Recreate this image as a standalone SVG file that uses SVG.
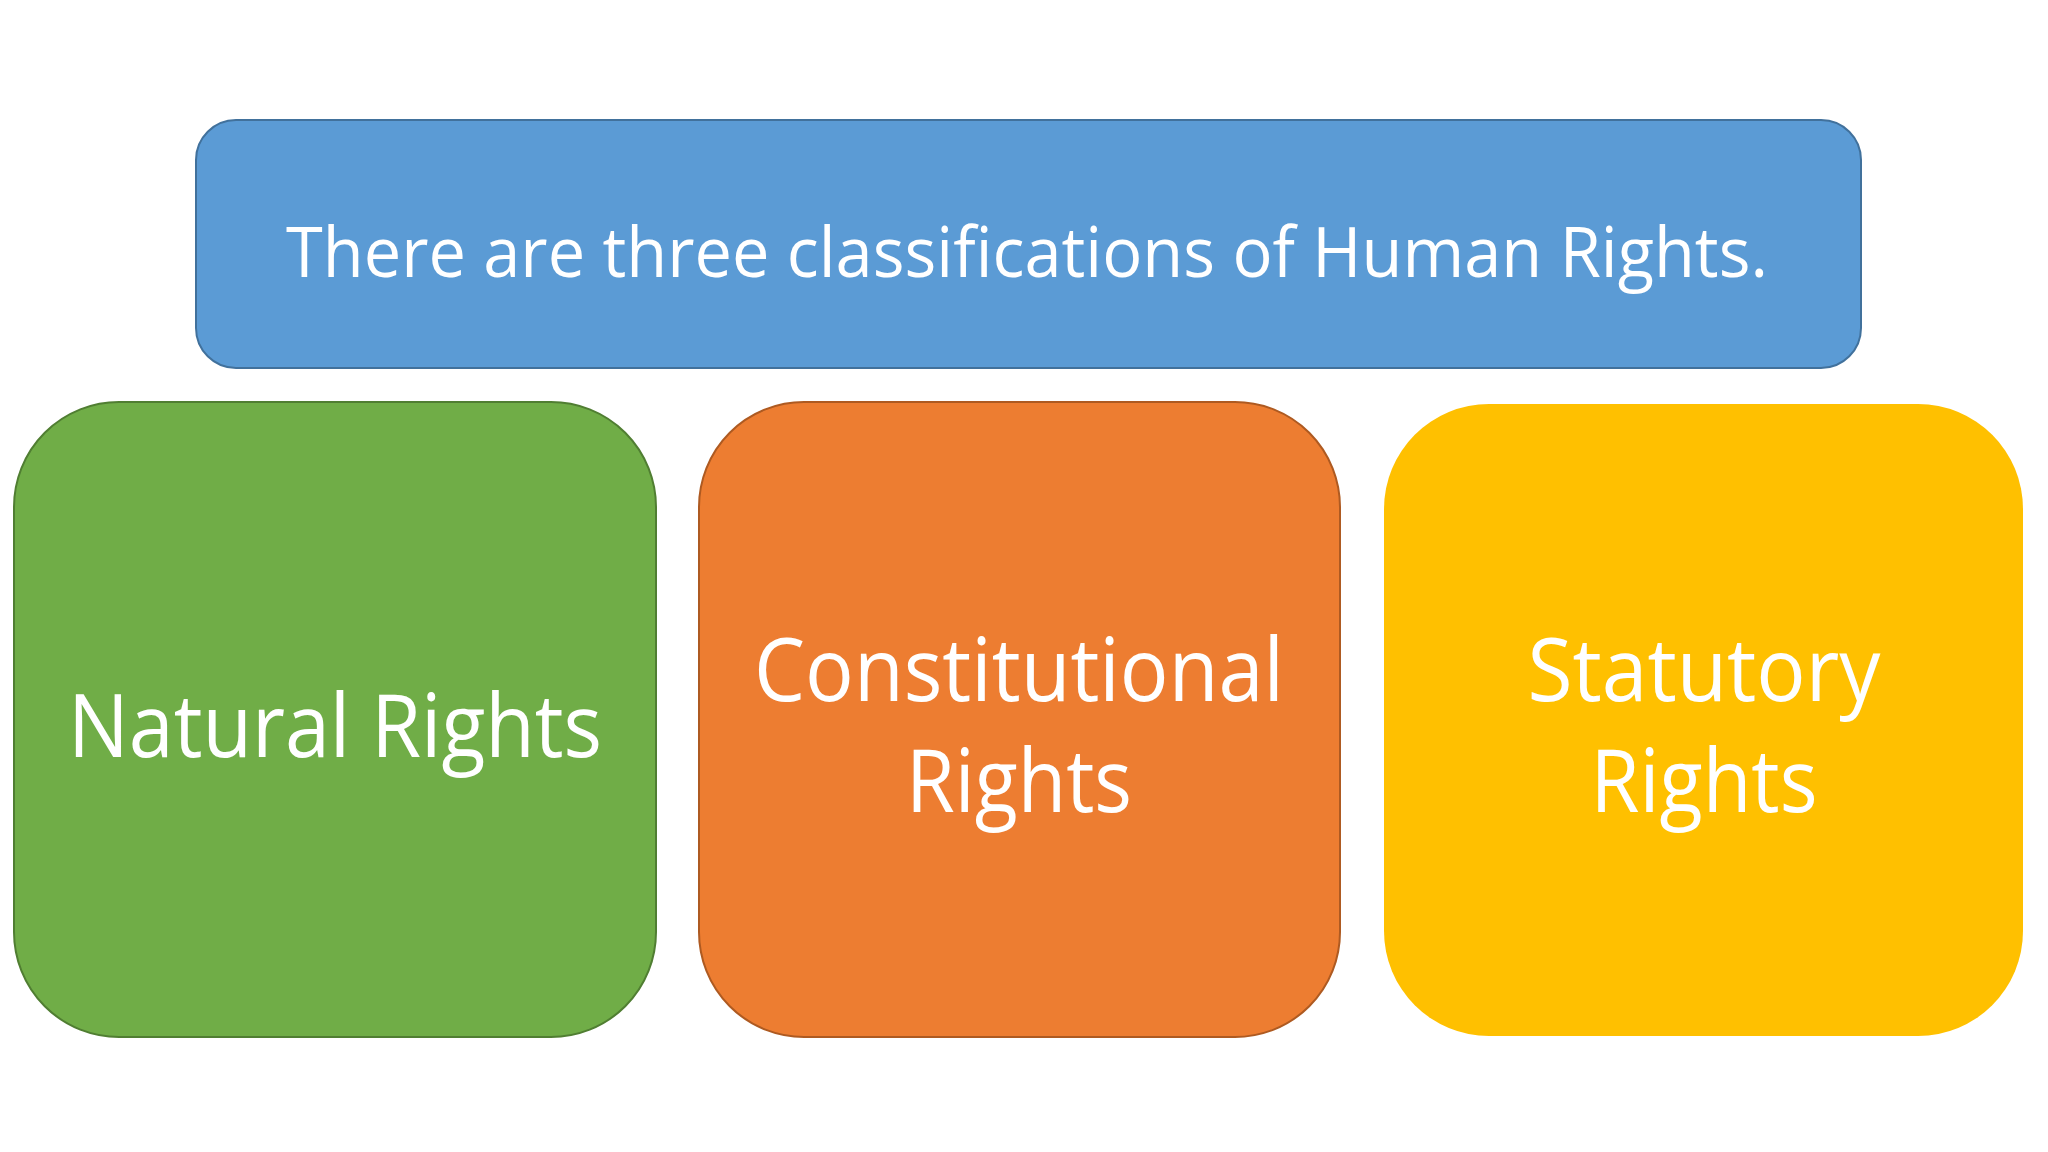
<svg xmlns="http://www.w3.org/2000/svg" width="2048" height="1152" viewBox="0 0 2048 1152">
<style>
text{font-family:"Open Sans","Noto Sans",sans-serif;fill:#fff;text-anchor:middle}
.t{font-size:70px}
.b{font-size:88px}
</style>
<rect width="2048" height="1152" fill="#fff"/>
<g id="title"><rect x="196" y="120" width="1665" height="248" rx="40" fill="#5B9BD5" stroke="#41719C" stroke-width="2"/>
<text class="t" x="1027" y="277" textLength="1482" lengthAdjust="spacingAndGlyphs">There are three classifications of Human Rights.</text></g>
<g id="natural"><rect x="14" y="402" width="642" height="635" rx="105" fill="#70AD47" stroke="#507E32" stroke-width="2"/>
<text class="b" x="335" y="757" textLength="534" lengthAdjust="spacingAndGlyphs">Natural Rights</text></g>
<g id="constitutional"><rect x="699" y="402" width="641" height="635" rx="105" fill="#ED7D31" stroke="#AE5A21" stroke-width="2"/>
<text class="b" x="1019" y="701" textLength="530" lengthAdjust="spacingAndGlyphs">Constitutional</text>
<text class="b" x="1019" y="812" textLength="226" lengthAdjust="spacingAndGlyphs">Rights</text></g>
<g id="statutory"><rect x="1384" y="404" width="639" height="632" rx="105" fill="#FFC000"/>
<text class="b" x="1704" y="701" textLength="353" lengthAdjust="spacingAndGlyphs">Statutory</text>
<text class="b" x="1704" y="812" textLength="227" lengthAdjust="spacingAndGlyphs">Rights</text></g>
<g id="connectors"/>
</svg>
